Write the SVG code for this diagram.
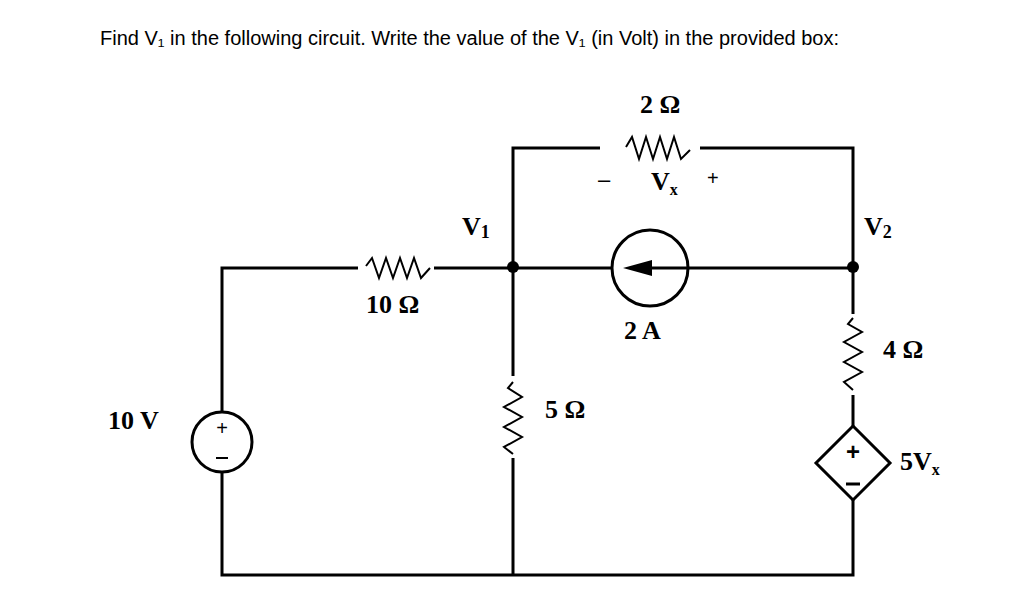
<svg xmlns="http://www.w3.org/2000/svg" width="1024" height="606" viewBox="0 0 1024 606">
<style>
.w{stroke:#000;stroke-width:3;fill:none}
.r{stroke:#000;stroke-width:2;fill:none}
.t{font-family:"Liberation Serif",serif;font-weight:bold;font-size:26px;fill:#000}
.s{font-family:"Liberation Serif",serif;font-weight:bold;font-size:16px;fill:#000}
.p{font-family:"Liberation Sans",sans-serif;font-size:20px;fill:#000;text-anchor:middle}
</style>
<rect width="1024" height="606" fill="#fff"/>
<text x="100" y="45" font-family="Liberation Sans,Arial,sans-serif" font-size="20" fill="#000">Find V₁ in the following circuit. Write the value of the V₁ (in Volt) in the provided box:</text>
<g id="wires">
<path class="w" d="M222,412 V268 H358 M434,268 H513 M513,268 H612 M688,268 H853 M513,268 V148 H600 M700,148 H853 V268 M853,268 V314 M853,395 V426 M853,500 V575 H222 V472 M513,268 V376 M513,458 V575"/>
<circle cx="513" cy="267" r="6" fill="#000"/>
<circle cx="853" cy="267" r="6" fill="#000"/>
</g>
<g id="src10">
<circle class="w" cx="222" cy="442" r="30"/>
<text class="p" x="222" y="435">+</text>
<path class="r" d="M216,458 H228"/>
<text class="t" x="108" y="429">10 V</text>
</g>
<g id="r10">
<path class="r" d="M366,266 L372,258 L379,278 L386,258 L393,278 L400,258 L407,278 L414,258 L421,278 L430,268"/>
<text class="t" x="366" y="313">10 Ω</text>
</g>
<g id="r2">
<path class="r" d="M626,147 L632,137 L639,159 L646,137 L653,159 L660,137 L667,159 L674,137 L681,159 L690,150"/>
<text class="t" x="640" y="113">2 Ω</text>
<text x="598" y="187" font-family="Liberation Sans,sans-serif" font-size="22">–</text>
<text class="t" x="651" y="190">V<tspan class="s" dy="5">x</tspan></text>
<text x="707" y="185" font-family="Liberation Sans,sans-serif" font-size="20">+</text>
</g>
<text class="t" x="462" y="235">V<tspan font-size="18" dy="3">1</tspan></text>
<text class="t" x="864" y="235">V<tspan font-size="18" dy="3">2</tspan></text>
<g id="i2">
<circle class="w" cx="650" cy="268" r="38"/>
<path class="w" d="M687,268 H640"/>
<path d="M623,268 L652,260 L652,276 Z" fill="#000"/>
<text class="t" x="624" y="339">2 A</text>
</g>
<g id="r5">
<path class="r" d="M513,382 L508,388 L522,397 L504,407 L522,417 L504,427 L522,437 L504,447 L513,454"/>
<text class="t" x="545" y="418">5 Ω</text>
</g>
<g id="r4">
<path class="r" d="M853,318 L848,324 L862,332 L844,342 L862,352 L844,362 L862,372 L844,382 L853,390"/>
<text class="t" x="883" y="358">4 Ω</text>
</g>
<g id="dep">
<path class="w" d="M853,426 L890,463 L853,500 L816,463 Z"/>
<text x="853" y="460" font-family="Liberation Sans,sans-serif" font-size="24" font-weight="bold" text-anchor="middle">+</text>
<path class="w" d="M846,484 H860"/>
<text class="t" x="900" y="470">5V<tspan class="s" dy="5">x</tspan></text>
</g>
</svg>
